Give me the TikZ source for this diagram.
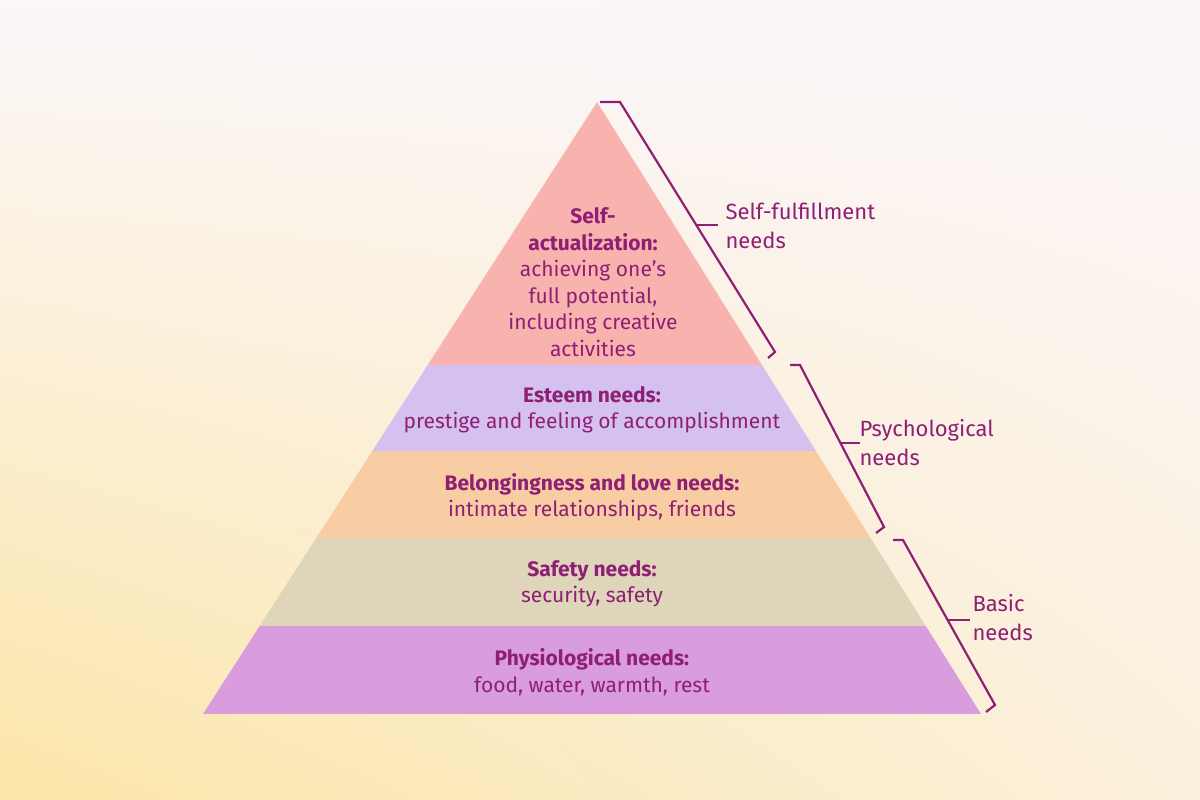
\documentclass[tikz,border=0pt]{standalone}
\usepackage{fontspec}
\setmainfont{Fira Sans}
\usetikzlibrary{shadings}
\definecolor{ink}{HTML}{8E1F74}
\definecolor{topband}{HTML}{F8B3AE}
\definecolor{esteem}{HTML}{D5C1F0}
\definecolor{belong}{HTML}{F9CDA3}
\definecolor{safe}{HTML}{DED5BA}
\definecolor{physio}{HTML}{D99CDD}
\definecolor{bgul}{HTML}{FBF7FA}
\definecolor{bgur}{HTML}{FBF6FA}
\definecolor{bgll}{HTML}{FCE6A8}
\definecolor{bglr}{HTML}{FBF0DC}
\begin{document}
\begin{tikzpicture}[x=1pt,y=-1pt,
  label/.style={text=ink,font=\fontsize{21}{26.5}\selectfont,align=center},
  side/.style={text=ink,font=\fontsize{22}{29}\selectfont,align=left,anchor=west},
  brace/.style={draw=ink,line width=2.2pt}]
% background
\shade[upper left=bgul,upper right=bgur,lower left=bgll,lower right=bglr]
  (0,0) rectangle (1200,800);

% pyramid
\coordinate (apex) at (597,102);
\coordinate (bl) at (203,714);
\coordinate (br) at (981,714);
\begin{scope}
\clip (apex) -- (br) -- (bl) -- cycle;
\fill[topband] (150,90) rectangle (1000,365);
\fill[esteem] (150,365) rectangle (1000,451);
\fill[belong] (150,451) rectangle (1000,538);
\fill[safe] (150,538) rectangle (1000,626);
\fill[physio] (150,626) rectangle (1000,714);
\end{scope}

% labels
\node[label] (top) at (593,282) {\textbf{Self-}\\\textbf{actualization:}\\achieving one’s\\full potential,\\including creative\\activities};
\node[label] (est) at (592,410) {\textbf{Esteem needs:}\\prestige and feeling of accomplishment};
\node[label] (bel) at (592,497) {\textbf{Belongingness and love needs:}\\intimate relationships, friends};
\node[label] (saf) at (592,584) {\textbf{Safety needs:}\\security, safety};
\node[label] (phy) at (592,672) {\textbf{Physiological needs:}\\food, water, warmth, rest};

% brackets
\draw[brace] (600,102) -- (620,102) -- (775,352) -- (768,358);
\draw[brace] (696,225) -- (718,225);
\draw[brace] (790,365) -- (800,365) -- (884,527) -- (876,533);
\draw[brace] (840,443) -- (860,443);
\draw[brace] (893,540) -- (903,540) -- (995,705) -- (986,712);
\draw[brace] (948,620) -- (970,620);

\node[side] (ful) at (722,226) {Self-fulfillment\\needs};
\node[side] (psy) at (856,443) {Psychological\\needs};
\node[side] (bas) at (969,618) {Basic\\needs};
\end{tikzpicture}
\end{document}
